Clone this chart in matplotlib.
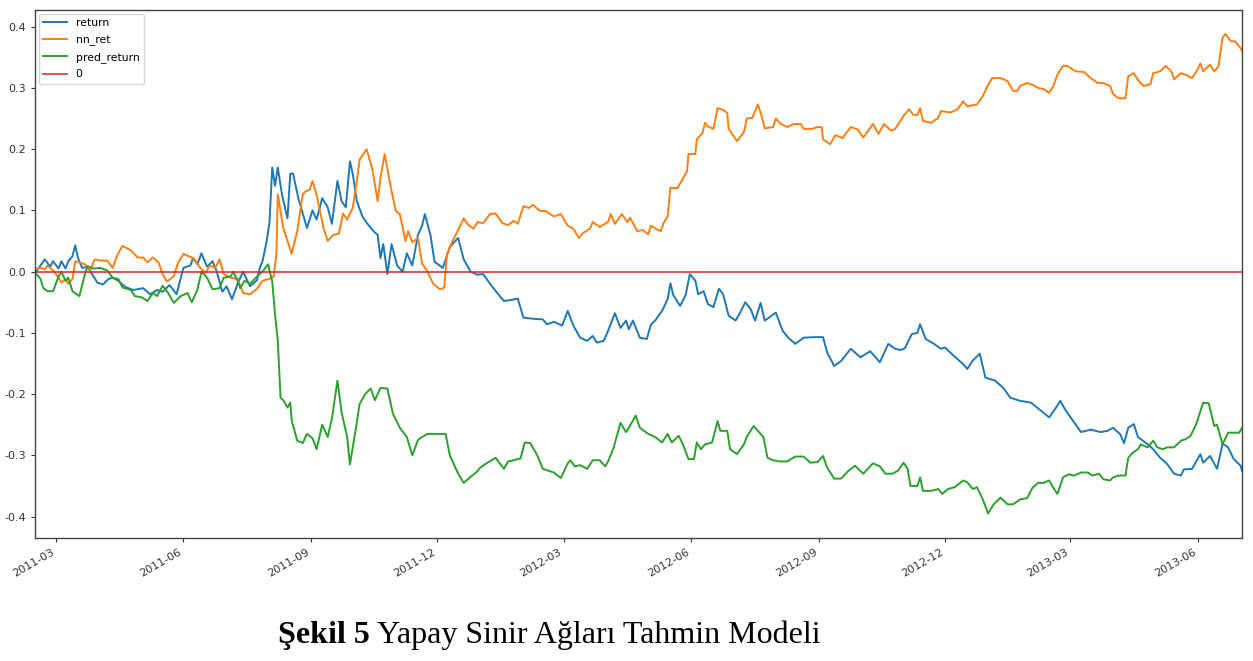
import matplotlib
matplotlib.use("Agg")
import matplotlib.pyplot as plt
import matplotlib.dates as mdates
import pandas as pd
import numpy as np

START = pd.Timestamp("2011-02-14")

# ---- return (blue): day offset from START, cumulative value ----
ret_day = [0, 4, 7, 11, 13, 17, 19, 22, 24, 27, 29, 31, 34, 38, 40, 45, 49, 53, 56, 60,
           65, 71, 78, 83, 88, 92, 97, 102, 107, 112, 114, 117, 120, 124, 128, 131, 135, 138,
           142, 146, 150, 155, 160, 162, 164, 167, 169, 171, 173, 175, 178, 182, 184, 186, 190,
           193, 196, 200, 203, 207, 211, 214, 218, 221, 224, 227, 229, 232, 236, 239, 244, 247,
           249, 251, 254, 257, 261, 265, 268, 272, 276, 279, 281, 285, 288, 294, 299, 305, 309,
           314, 319, 323, 328, 335, 338, 344, 348, 352, 359, 366, 369, 374, 380, 384, 388, 393,
           398, 402, 405, 410, 413, 418, 422, 426, 428, 431, 436, 441, 444, 447, 452, 456, 458,
           460, 465, 469, 472, 476, 478, 482, 485, 489, 493, 496, 500, 505, 508, 512, 516, 519,
           523, 526, 534, 539, 543, 548, 554, 561, 568, 571, 576, 581, 588, 595, 602, 609, 615,
           620, 624, 627, 632, 636, 638, 642, 648, 653, 656, 662, 669, 672, 676, 681, 685, 692,
           698, 703, 710, 718, 725, 731, 736, 739, 743, 749, 754, 761, 768, 773, 777, 782, 785,
           788, 792, 795, 802, 806, 811, 816, 821, 826, 828, 834, 840, 842, 847, 852, 856, 860,
           864, 869, 870]
ret_val = [-0.002, 0.01, 0.02, 0.008, 0.017, 0.005, 0.017, 0.005, 0.017, 0.025, 0.043, 0.022,
           0.006, 0.008, 0.0, -0.018, -0.021, -0.012, -0.01, -0.015, -0.025, -0.03, -0.027,
           -0.037, -0.03, -0.033, -0.022, -0.037, 0.006, 0.01, 0.022, 0.012, 0.03, 0.008, 0.017,
           0.0, -0.033, -0.024, -0.045, -0.02, 0.0, -0.024, -0.014, 0.006, 0.017, 0.05, 0.08,
           0.17, 0.14, 0.17, 0.126, 0.087, 0.16, 0.16, 0.118, 0.095, 0.071, 0.1, 0.085, 0.12,
           0.105, 0.078, 0.148, 0.115, 0.105, 0.18, 0.16, 0.115, 0.09, 0.08, 0.066, 0.06, 0.022,
           0.045, -0.004, 0.045, 0.01, 0.0, 0.03, 0.01, 0.06, 0.075, 0.094, 0.06, 0.016, 0.006,
           0.04, 0.055, 0.02, 0.0, -0.005, -0.004, -0.02, -0.04, -0.048, -0.046, -0.044, -0.075,
           -0.077, -0.078, -0.086, -0.082, -0.088, -0.064, -0.088, -0.108, -0.113, -0.105,
           -0.116, -0.113, -0.097, -0.068, -0.092, -0.08, -0.094, -0.08, -0.108, -0.11, -0.086,
           -0.08, -0.064, -0.045, -0.019, -0.038, -0.056, -0.038, -0.004, -0.015, -0.037,
           -0.032, -0.053, -0.058, -0.028, -0.037, -0.072, -0.08, -0.068, -0.05, -0.062, -0.08,
           -0.051, -0.08, -0.067, -0.097, -0.108, -0.118, -0.108, -0.107, -0.107, -0.132,
           -0.154, -0.146, -0.126, -0.14, -0.13, -0.148, -0.118, -0.126, -0.128, -0.125, -0.102,
           -0.1, -0.086, -0.11, -0.118, -0.126, -0.124, -0.137, -0.151, -0.159, -0.145, -0.134,
           -0.173, -0.178, -0.19, -0.206, -0.211, -0.214, -0.227, -0.238, -0.222, -0.211,
           -0.227, -0.246, -0.262, -0.258, -0.262, -0.26, -0.255, -0.265, -0.28, -0.255, -0.249,
           -0.27, -0.282, -0.29, -0.304, -0.314, -0.33, -0.333, -0.323, -0.322, -0.298, -0.312,
           -0.301, -0.322, -0.281, -0.287, -0.306, -0.317, -0.325]

# ---- nn_ret (orange) ----
nn_day = [0, 4, 7, 9, 13, 17, 19, 22, 24, 27, 29, 32, 36, 40, 43, 47, 52, 56, 59, 63, 69, 74,
          78, 81, 85, 89, 92, 95, 100, 103, 107, 112, 115, 119, 123, 126, 130, 133, 136, 141,
          146, 150, 155, 160, 164, 169, 172, 174, 175, 179, 182, 185, 189, 193, 195, 198, 200,
          203, 208, 211, 215, 219, 222, 225, 229, 232, 234, 239, 243, 247, 249, 252, 256, 260,
          263, 267, 269, 272, 276, 279, 283, 287, 292, 295, 297, 301, 307, 309, 312, 316, 319,
          323, 328, 332, 337, 341, 345, 348, 352, 356, 359, 364, 368, 374, 379, 384, 388, 392,
          395, 400, 402, 407, 413, 415, 418, 423, 427, 429, 434, 438, 442, 444, 449, 451, 453,
          456, 458, 463, 465, 470, 471, 476, 477, 481, 483, 485, 489, 492, 496, 499, 500, 506,
          511, 513, 517, 521, 523, 526, 532, 534, 537, 542, 547, 552, 554, 560, 564, 567, 568,
          573, 577, 582, 588, 593, 597, 604, 608, 612, 617, 620, 626, 630, 633, 636, 638, 640,
          646, 651, 653, 660, 665, 669, 672, 679, 683, 687, 690, 696, 701, 705, 708, 710, 715,
          719, 723, 727, 731, 734, 737, 741, 744, 750, 756, 761, 766, 770, 775, 777, 781, 786,
          788, 792, 795, 799, 804, 806, 811, 815, 819, 821, 826, 831, 834, 837, 840, 842, 847,
          850, 853, 856, 858, 862, 865, 869, 870]
nn_val = [0.004, 0.006, 0.004, 0.01, 0.002, -0.01, -0.018, -0.012, -0.02, -0.012, 0.017,
          0.015, 0.012, 0.003, 0.02, 0.018, 0.018, 0.006, 0.025, 0.042, 0.035, 0.023, 0.023,
          0.015, 0.023, 0.015, -0.004, -0.016, -0.008, 0.014, 0.029, 0.024, 0.02, 0.006,
          -0.002, 0.01, 0.006, 0.02, -0.004, -0.01, -0.012, -0.035, -0.037, -0.028, -0.015,
          -0.012, -0.008, 0.029, 0.126, 0.071, 0.05, 0.029, 0.066, 0.126, 0.131, 0.134, 0.148,
          0.125, 0.071, 0.05, 0.06, 0.062, 0.095, 0.085, 0.104, 0.148, 0.183, 0.2, 0.169,
          0.115, 0.153, 0.192, 0.143, 0.099, 0.094, 0.05, 0.066, 0.048, 0.055, 0.013, 0.0,
          -0.02, -0.029, -0.026, 0.029, 0.05, 0.077, 0.087, 0.077, 0.07, 0.081, 0.079, 0.094,
          0.095, 0.079, 0.076, 0.083, 0.078, 0.107, 0.104, 0.109, 0.099, 0.099, 0.09, 0.094,
          0.075, 0.07, 0.055, 0.063, 0.07, 0.081, 0.073, 0.081, 0.094, 0.078, 0.094, 0.081,
          0.088, 0.066, 0.068, 0.061, 0.075, 0.068, 0.066, 0.079, 0.09, 0.137, 0.136, 0.144,
          0.164, 0.192, 0.192, 0.216, 0.226, 0.243, 0.237, 0.233, 0.267, 0.264, 0.259, 0.233,
          0.213, 0.228, 0.25, 0.251, 0.273, 0.26, 0.234, 0.236, 0.25, 0.242, 0.236, 0.241,
          0.241, 0.233, 0.233, 0.236, 0.236, 0.216, 0.208, 0.223, 0.218, 0.236, 0.232, 0.219,
          0.241, 0.225, 0.241, 0.23, 0.233, 0.254, 0.265, 0.256, 0.256, 0.267, 0.246, 0.243,
          0.251, 0.262, 0.26, 0.265, 0.278, 0.27, 0.273, 0.286, 0.305, 0.316, 0.316, 0.311,
          0.295, 0.295, 0.303, 0.308, 0.305, 0.3, 0.298, 0.292, 0.303, 0.322, 0.336, 0.336,
          0.327, 0.326, 0.316, 0.308, 0.308, 0.303, 0.29, 0.283, 0.283, 0.319, 0.324, 0.313,
          0.303, 0.306, 0.324, 0.327, 0.336, 0.327, 0.314, 0.324, 0.32, 0.316, 0.326, 0.34,
          0.327, 0.338, 0.327, 0.335, 0.382, 0.388, 0.376, 0.376, 0.365, 0.36]

# ---- pred_return (green) ----
pred_day = [0, 1, 4, 6, 9, 13, 17, 19, 22, 24, 27, 30, 32, 36, 38, 42, 47, 52, 56, 60, 63, 69,
            72, 77, 81, 85, 88, 92, 96, 100, 105, 110, 113, 117, 120, 124, 128, 133, 136, 141,
            143, 146, 148, 151, 155, 160, 164, 168, 171, 173, 175, 177, 179, 182, 184, 185, 189,
            193, 196, 200, 203, 207, 211, 214, 218, 221, 225, 227, 231, 234, 238, 242, 245, 249,
            254, 258, 263, 268, 272, 276, 279, 283, 288, 296, 299, 305, 309, 314, 318, 321, 326,
            332, 338, 341, 345, 350, 353, 357, 362, 366, 374, 379, 384, 386, 389, 393, 398, 402,
            407, 411, 413, 417, 422, 426, 428, 433, 436, 442, 447, 452, 456, 459, 464, 467, 471,
            475, 477, 480, 483, 488, 492, 494, 499, 501, 506, 511, 513, 518, 521, 525, 528, 532,
            537, 542, 548, 554, 559, 564, 568, 571, 576, 581, 586, 591, 597, 604, 609, 613, 618,
            622, 626, 629, 631, 636, 638, 640, 646, 651, 654, 658, 663, 669, 672, 676, 679, 683,
            687, 691, 696, 701, 705, 710, 715, 719, 723, 727, 731, 734, 737, 741, 745, 749, 754,
            759, 762, 767, 770, 775, 777, 781, 786, 788, 791, 795, 797, 802, 806, 809, 813, 816,
            821, 826, 829, 833, 837, 842, 846, 850, 852, 856, 860, 863, 868, 870]
pred_val = [-0.004, -0.004, -0.012, -0.027, -0.032, -0.032, -0.008, 0.0, -0.015, -0.01,
            -0.032, -0.037, -0.04, -0.004, 0.009, 0.005, 0.006, 0.002, -0.01, -0.012, -0.026,
            -0.03, -0.04, -0.042, -0.048, -0.035, -0.04, -0.023, -0.035, -0.051, -0.04, -0.035,
            -0.05, -0.03, 0.0, -0.01, -0.029, -0.027, -0.01, -0.008, 0.0, -0.015, -0.027,
            -0.015, -0.02, -0.008, 0.0, 0.012, -0.016, -0.07, -0.113, -0.206, -0.21, -0.222,
            -0.214, -0.243, -0.276, -0.28, -0.265, -0.272, -0.29, -0.25, -0.27, -0.24, -0.178,
            -0.23, -0.27, -0.315, -0.26, -0.216, -0.2, -0.191, -0.21, -0.19, -0.191, -0.232,
            -0.255, -0.27, -0.3, -0.275, -0.27, -0.265, -0.265, -0.265, -0.3, -0.33, -0.345,
            -0.335, -0.328, -0.32, -0.312, -0.304, -0.322, -0.31, -0.308, -0.305, -0.279, -0.28,
            -0.3, -0.322, -0.328, -0.337, -0.313, -0.308, -0.318, -0.316, -0.322, -0.308,
            -0.308, -0.318, -0.31, -0.288, -0.247, -0.262, -0.255, -0.235, -0.255, -0.265,
            -0.27, -0.279, -0.265, -0.279, -0.268, -0.282, -0.306, -0.306, -0.279, -0.29,
            -0.282, -0.279, -0.244, -0.26, -0.26, -0.29, -0.298, -0.282, -0.27, -0.252, -0.26,
            -0.27, -0.304, -0.308, -0.31, -0.31, -0.302, -0.302, -0.312, -0.311, -0.301, -0.32,
            -0.338, -0.338, -0.326, -0.317, -0.33, -0.313, -0.318, -0.33, -0.33, -0.325, -0.312,
            -0.322, -0.35, -0.35, -0.336, -0.358, -0.358, -0.355, -0.363, -0.355, -0.352,
            -0.341, -0.344, -0.355, -0.352, -0.371, -0.395, -0.38, -0.369, -0.38, -0.38, -0.372,
            -0.37, -0.353, -0.345, -0.345, -0.341, -0.353, -0.363, -0.336, -0.331, -0.333,
            -0.328, -0.328, -0.333, -0.33, -0.339, -0.341, -0.336, -0.333, -0.333, -0.304,
            -0.296, -0.29, -0.282, -0.287, -0.276, -0.287, -0.29, -0.287, -0.287, -0.276,
            -0.274, -0.268, -0.249, -0.214, -0.215, -0.252, -0.25, -0.282, -0.263, -0.263,
            -0.263, -0.255]

zero_line = 0.0
labels = ["return", "nn_ret", "pred_return", "0"]
caption_bold = "Şekil 5"
caption_rest = " Yapay Sinir Ağları Tahmin Modeli"

W, H = 1253, 661
fig = plt.figure(figsize=(W / 100, H / 100), dpi=100)
ax = fig.add_axes([35 / W, 1 - 537.5 / H, (1242 - 35) / W, (537.5 - 10) / H])

def to_dates(days):
    return START + pd.to_timedelta(np.asarray(days), unit="D")

lw = 1.4
ax.plot(to_dates(ret_day), ret_val, color="#1f77b4", lw=lw, label=labels[0])
ax.plot(to_dates(nn_day), nn_val, color="#ff7f0e", lw=lw, label=labels[1])
ax.plot(to_dates(pred_day), pred_val, color="#2ca02c", lw=lw, label=labels[2])
x0 = to_dates([0])[0]
x1 = to_dates([ret_day[-1]])[0]
ax.plot([x0, x1], [zero_line, zero_line], color="#d62728", lw=lw, alpha=0.8, label=labels[3])
ax.set_xlim(x0, x1)
ax.margins(y=0.05)

ax.xaxis.set_major_locator(mdates.MonthLocator(bymonth=[3, 6, 9, 12]))
ax.xaxis.set_major_formatter(mdates.DateFormatter("%Y-%m"))
ax.set_yticks([-0.4, -0.3, -0.2, -0.1, 0.0, 0.1, 0.2, 0.3, 0.4])
ax.yaxis.set_major_formatter(matplotlib.ticker.FormatStrFormatter("%.1f"))
ax.tick_params(labelsize=8, colors="#333333", length=3)
for lab in ax.get_xticklabels():
    lab.set_rotation(30)
    lab.set_ha("right")
for s in ax.spines.values():
    s.set_color("#444444")
    s.set_linewidth(1.0)

leg = ax.legend(loc="upper left", fontsize=7.8, frameon=True, borderaxespad=0.35,
                handlelength=2.2, labelspacing=0.6)
leg.get_frame().set_edgecolor("#cccccc")

t1 = fig.text(278 / W, 1 - 643 / H, caption_bold, fontsize=23, fontweight="bold",
              family="Liberation Serif", ha="left", va="baseline")
fig.canvas.draw()
bb = t1.get_window_extent(renderer=fig.canvas.get_renderer())
fig.text(bb.x1 / W, 1 - 643 / H, caption_rest, fontsize=23,
         family="Liberation Serif", ha="left", va="baseline")

fig.savefig("out.png", dpi=100)
